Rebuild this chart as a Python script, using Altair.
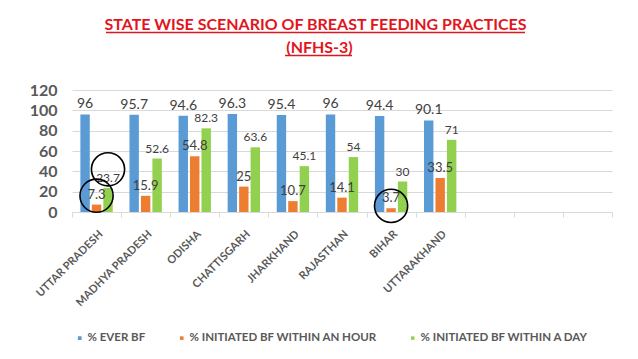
import altair as alt
import pandas as pd

# ---------------- data ----------------
states = ["UTTAR PRADESH", "MADHYA PRADESH", "ODISHA", "CHATTISGARH",
          "JHARKHAND", "RAJASTHAN", "BIHAR", "UTTARAKHAND"]
blank_slots = ["", " ", "  "]          # empty category slots on the right
series = ["% EVER BF", "% INITIATED BF WITHIN AN HOUR", "% INITIATED BF WITHIN A DAY"]
ever_bf = [96, 95.7, 94.6, 96.3, 95.4, 96, 94.4, 90.1]
within_hour = [7.3, 15.9, 54.8, 25, 10.7, 14.1, 3.7, 33.5]
within_day = [23.7, 52.6, 82.3, 63.6, 45.1, 54, 30, 71]
y_ticks = [0, 20, 40, 60, 80, 100, 120]
title_line1 = "STATE WISE SCENARIO OF BREAST FEEDING PRACTICES"
title_line2 = "(NFHS-3)"
# circled annotations: (state, series, value at circle centre)
circle_states = ["UTTAR PRADESH", "UTTAR PRADESH", "BIHAR"]
circle_series = [series[1], series[2], series[1]]
circle_values = [16, 42, 6]

colors = ["#5B9BD5", "#ED7D31", "#92D050"]
FONT = "Lato"
GRAY = "#595959"
RED = "#E0161E"

rows = []
for i, s in enumerate(states):
    for name, vals in zip(series, [ever_bf, within_hour, within_day]):
        rows.append({"state": s, "series": name, "value": vals[i]})
df = pd.DataFrame(rows)

W, H = 540, 122

x_enc = alt.X("state:N",
              scale=alt.Scale(domain=states + blank_slots, paddingInner=0, paddingOuter=0),
              axis=alt.Axis(title=None, labelAngle=-45, labelAlign="right", labelBaseline="top",
                            labelFont=FONT, labelFontSize=11, labelFontWeight="bold",
                            labelColor=GRAY, labelPadding=11, tickBand="extent", ticks=True,
                            tickSize=5, tickColor="#D9D9D9", domainColor="#D9D9D9",
                            grid=False, labelOverlap=False))
xoff_enc = alt.XOffset("series:N",
                       scale=alt.Scale(domain=series, paddingInner=0.18, paddingOuter=0.73))
y_enc = alt.Y("value:Q",
              scale=alt.Scale(domain=[0, 120], nice=False),
              axis=alt.Axis(title=None, values=y_ticks, grid=True, gridColor="#D9D9D9",
                            domain=False, ticks=False, labelFont=FONT, labelFontSize=16,
                            labelFontWeight="bold", labelColor=GRAY, labelPadding=15))

base = alt.Chart(df)

bars = base.mark_bar().encode(
    x=x_enc, xOffset=xoff_enc, y=y_enc,
    color=alt.Color("series:N", scale=alt.Scale(domain=series, range=colors),
                    legend=alt.Legend(title=None, orient="none", direction="horizontal",
                                      legendX=2, legendY=242, symbolType="square",
                                      symbolSize=45, symbolStrokeWidth=0,
                                      labelFont=FONT, labelFontSize=11.5, labelFontWeight="bold",
                                      labelColor=GRAY, columnPadding=30, labelOffset=2,
                                      labelLimit=400)),
)

labels = base.mark_text(baseline="middle", dy=-10, font=FONT, color="#404040").encode(
    x=x_enc, xOffset=xoff_enc, y=y_enc,
    text=alt.Text("value:Q"),
    size=alt.Size("series:N", scale=alt.Scale(domain=series, range=[14, 12, 13]), legend=None),
)

circ_df = pd.DataFrame({"state": circle_states, "series": circle_series, "value": circle_values})
circles = alt.Chart(circ_df).mark_point(shape="circle", filled=False, size=1100,
                                        stroke="black", strokeWidth=1.6, opacity=1).encode(
    x=x_enc, xOffset=xoff_enc, y=y_enc)

ttl_df = pd.DataFrame({"t": [title_line1]})
ttl2_df = pd.DataFrame({"t": [title_line2]})
title1 = alt.Chart(ttl_df).mark_text(font=FONT, fontSize=16, fontWeight="bold", color=RED,
                                     baseline="alphabetic", align="center").encode(
    x=alt.value(243.5), y=alt.value(-60), text="t:N")
title2 = alt.Chart(ttl2_df).mark_text(font=FONT, fontSize=16, fontWeight="bold", color=RED,
                                      baseline="alphabetic", align="center").encode(
    x=alt.value(247.5), y=alt.value(-37), text="t:N")

underline1 = alt.Chart(ttl_df).mark_rule(color=RED, strokeWidth=1.5).encode(
    x=alt.value(34), x2=alt.value(453), y=alt.value(-57.5))
underline2 = alt.Chart(ttl2_df).mark_rule(color=RED, strokeWidth=1.5).encode(
    x=alt.value(213), x2=alt.value(280), y=alt.value(-34.5))

chart = alt.layer(bars, labels, circles, title1, title2, underline1, underline2).properties(
    width=W, height=H,
    autosize=alt.AutoSizeParams(type="none"),
    padding={"left": 64, "top": 82, "right": 18, "bottom": 139},
).configure_view(stroke=None)

chart.save("out.html", embed_options={"renderer": "svg", "actions": False})
